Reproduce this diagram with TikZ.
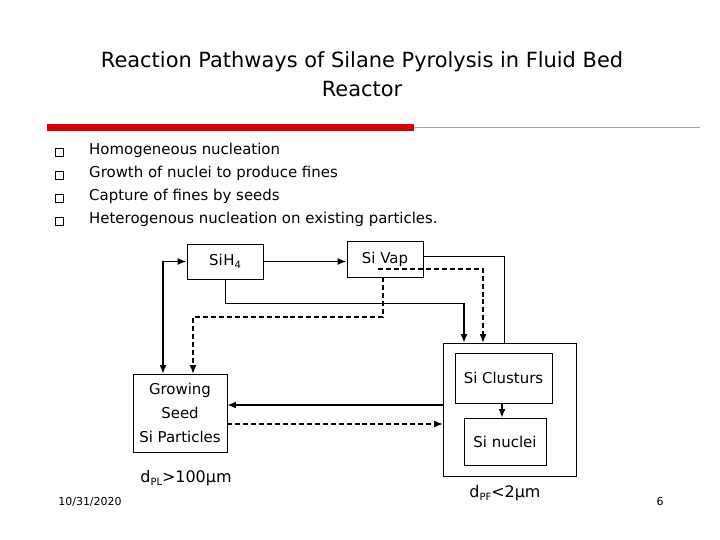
\documentclass[tikz,border=0pt]{standalone}
\usepackage{fontspec}
\setmainfont{DejaVu Sans}
\usetikzlibrary{arrows.meta}
\begin{document}
\begin{tikzpicture}[x=1bp,y=-1bp,
  box/.style={draw,thick,inner sep=0pt,align=center,font=\fontsize{15}{24}\selectfont},
  tip/.style={-{Latex[length=9pt,width=7pt]}},
  thk/.style={line width=1.8pt,tip},
  thn/.style={line width=0.9pt},
  dsh/.style={line width=1.6pt,dash pattern=on 5pt off 3pt,tip},
  txt/.style={font=\fontsize{15}{18}\selectfont,anchor=west,inner sep=0pt}]
\useasboundingbox[fill=white] (0,0) rectangle (720,540);
\node[font=\fontsize{21}{29}\selectfont,align=center] (title) at (362,74) {Reaction Pathways of Silane Pyrolysis in Fluid Bed\\Reactor};
\fill[red!85!black] (47,124) rectangle (414,131);
\draw[gray!70,line width=0.8pt] (414,127.5) -- (700,127.5);
\foreach \y/\t [count=\i] in {150/Homogeneous nucleation,173/Growth of nuclei to produce fines,196/Capture of fines by seeds,219/Heterogenous nucleation on existing particles.}{
  \node[draw,inner sep=0pt,minimum size=8bp,line width=0.8pt] (b\i) at (59,\y+2) {};
  \node[txt] (t\i) at (89,\y) {\t};
}
\node[box,minimum width=76bp,minimum height=35bp] (sih) at (225,261.5) {Si\kern0.5pt H\raisebox{-0.35ex}{\fontsize{10}{12}\selectfont 4}};
\node[box,minimum width=76bp,minimum height=36bp] (vap) at (385,259) {Si Vap};
\node[box,minimum width=94bp,minimum height=78bp] (grow) at (180,413) {Growing\\Seed\\Si Particles};
\node[draw,thick,minimum width=133bp,minimum height=133bp] (big) at (509.5,409.5) {};
\node[box,minimum width=97bp,minimum height=50bp] (clu) at (503.5,378) {Si Clusturs};
\node[box,minimum width=82bp,minimum height=47bp] (nuc) at (505,441.5) {Si nuclei};
\coordinate (c1) at (163,374);
\draw[line width=1.8pt,{Latex[length=9pt,width=7pt]}-{Latex[length=9pt,width=7pt]}] (sih.west) -- (163,261.5) -- (c1);
\draw[thk] (sih.east) -- (vap.west |- sih.east);
\draw[thn] (225,279) -- (225,303) -- (464,303);
\draw[thk] (464,303) -- (464,343);
\draw[dsh] (383,277) -- (383,317) -- (193,317) -- (193,374);
\draw[dsh] (378,269) -- (483,269) -- (483,343);
\draw[thn] (423,256) -- (504,256) -- (504,343);
\draw[thk] (443,405) -- (227,405);
\draw[dsh] (227,424) -- (443,424);
\draw[thk] (502,403) -- (502,418);
\node[font=\fontsize{16}{18}\selectfont] (dpl) at (186,478) {d\raisebox{-0.4ex}{\fontsize{10}{12}\selectfont PL}>100μm};
\node[font=\fontsize{16}{18}\selectfont] (dpf) at (505,493) {d\raisebox{-0.4ex}{\fontsize{10}{12}\selectfont PF}<2μm};
\node[font=\fontsize{11}{13}\selectfont] (date) at (90,502) {10/31/2020};
\node[font=\fontsize{11}{13}\selectfont] (pg) at (660,502) {6};
\end{tikzpicture}
\end{document}
